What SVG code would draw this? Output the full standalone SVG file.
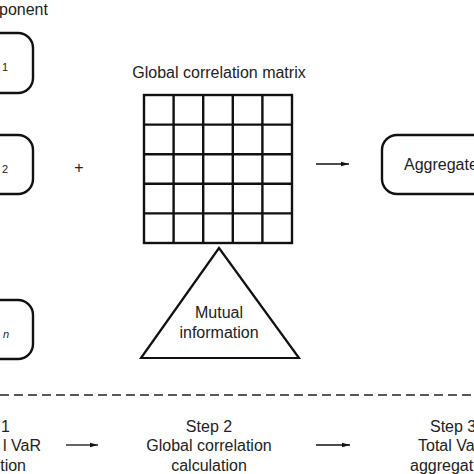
<svg xmlns="http://www.w3.org/2000/svg" width="474" height="474" viewBox="0 0 474 474">
<style>
text{font-family:"Liberation Sans",Arial,sans-serif;fill:#222;font-size:16px}
.box{fill:#fff;stroke:#111;stroke-width:2.4}
.grid{fill:none;stroke:#111;stroke-width:2.4}
.conn{stroke:#111;stroke-width:1.3;fill:none}
.sub{font-size:11px}
</style>
<defs>
<marker id="ah" markerWidth="8" markerHeight="6" refX="8" refY="3" orient="auto" markerUnits="userSpaceOnUse">
<path d="M0,0.8 L8,3 L0,5.2 Z" fill="#111"/>
</marker>
</defs>
<rect width="474" height="474" fill="#fff"/>
<text x="-1" y="15">ponent</text>
<g id="comp1">
<rect class="box" x="-40" y="33" width="73" height="60" rx="15"/>
<text class="sub" x="5" y="71" text-anchor="middle">1</text>
</g>
<g id="comp2">
<rect class="box" x="-40" y="135" width="73" height="59" rx="15"/>
<text class="sub" x="5" y="173" text-anchor="middle">2</text>
</g>
<g id="compn">
<rect class="box" x="-40" y="300" width="73" height="59" rx="15"/>
<text class="sub" x="6" y="338" text-anchor="middle" font-style="italic">n</text>
</g>
<text x="79" y="173" text-anchor="middle" font-size="14">+</text>
<g id="matrix">
<text x="219" y="78" text-anchor="middle">Global correlation matrix</text>
<rect class="grid" x="144" y="95" width="148" height="148"/>
<path class="grid" d="M173.6,95V243M203.2,95V243M232.8,95V243M262.4,95V243M144,124.6H292M144,154.2H292M144,183.8H292M144,213.4H292"/>
</g>
<g id="mutual">
<path d="M219,248 L299,358 L141,358 Z" fill="#fff" stroke="#111" stroke-width="2.2" stroke-linejoin="miter"/>
<text x="219" y="318" text-anchor="middle">Mutual</text>
<text x="219" y="338" text-anchor="middle">information</text>
</g>
<g id="aggregate">
<rect class="box" x="382" y="135" width="130" height="59" rx="15"/>
<text x="404" y="170">Aggregate</text>
</g>
<g id="connectors">
<line class="conn" x1="316" y1="164" x2="349" y2="164" marker-end="url(#ah)"/>
<line class="conn" x1="66" y1="445" x2="98" y2="445" marker-end="url(#ah)"/>
<line class="conn" x1="316" y1="445" x2="350" y2="445" marker-end="url(#ah)"/>
</g>
<line x1="0" y1="395" x2="474" y2="395" stroke="#222" stroke-width="1.4" stroke-dasharray="9 5"/>
<g id="step1">
<text x="10" y="432" text-anchor="end">1</text>
<text x="41" y="451" text-anchor="end">l VaR</text>
<text x="26" y="471" text-anchor="end">tion</text>
</g>
<g id="step2">
<text x="209" y="432" text-anchor="middle">Step 2</text>
<text x="209" y="451" text-anchor="middle">Global correlation</text>
<text x="209" y="471" text-anchor="middle">calculation</text>
</g>
<g id="step3">
<text x="430" y="432">Step 3</text>
<text x="418" y="451">Total Va</text>
<text x="410" y="471">aggregat</text>
</g>
</svg>
